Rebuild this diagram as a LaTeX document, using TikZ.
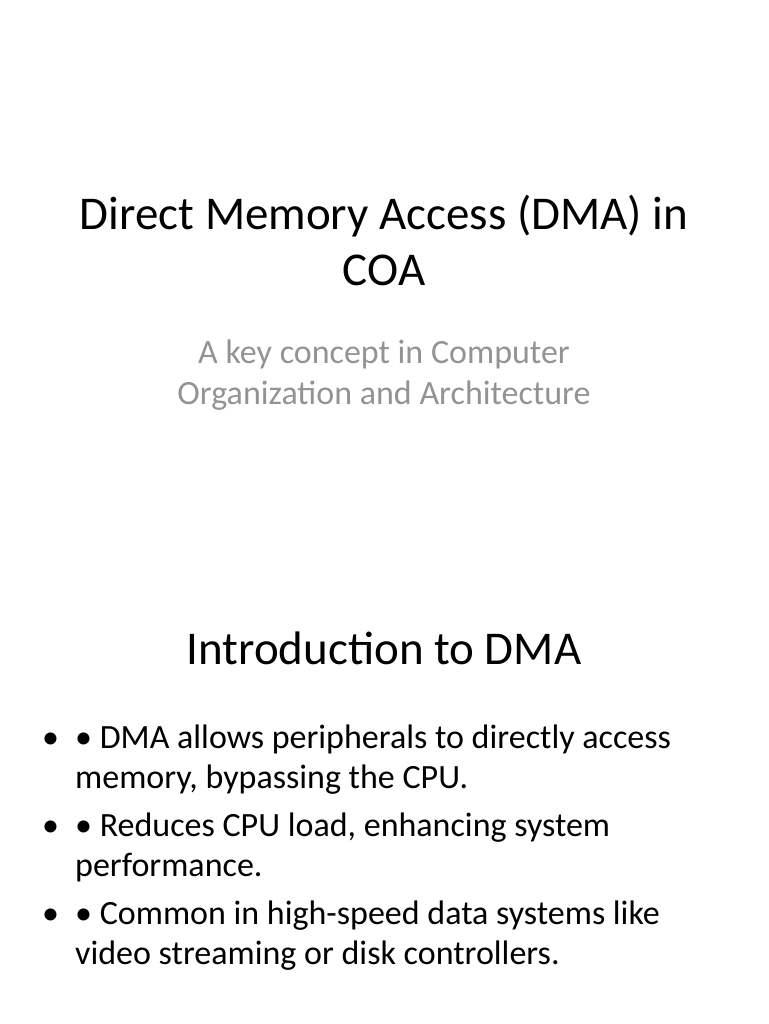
\documentclass[tikz,border=0pt]{standalone}
\usepackage{fontspec}
\setmainfont{Carlito}
\begin{document}
\begin{tikzpicture}[x=1pt,y=-1pt,
 ttl/.style={font=\fontsize{47}{56}\selectfont,inner sep=0pt,text height=32pt,text depth=9pt},
 sub/.style={font=\fontsize{34}{40}\selectfont,text=gray!85,inner sep=0pt,text height=23pt,text depth=7pt},
 bl/.style={font=\fontsize{34}{40}\selectfont,inner sep=0pt,anchor=west,text height=23pt,text depth=7pt}]
\useasboundingbox (0,0) rectangle (768,1024);
\node[ttl] (t1) at (384,218) {Direct Memory Access (DMA) in};
\node[ttl] (t2) at (384,274) {COA};
\node[sub] (s1) at (384,355) {A key concept in Computer};
\node[sub] (s2) at (384,396) {Organization and Architecture};
\node[ttl] (h) at (384,653) {Introduction to DMA};
\foreach \y/\n in {740/a,828/b,916/c}{\node[bl] (d\n) at (42,\y) {•};}
\node[bl] (b1) at (75,740) {• DMA allows peripherals to directly access};
\node[bl] (b2) at (75,780) {memory, bypassing the CPU.};
\node[bl] (b3) at (75,828) {• Reduces CPU load, enhancing system};
\node[bl] (b4) at (75,868) {performance.};
\node[bl] (b5) at (75,916) {• Common in high-speed data systems like};
\node[bl] (b6) at (75,956) {video streaming or disk controllers.};
\end{tikzpicture}
\end{document}
